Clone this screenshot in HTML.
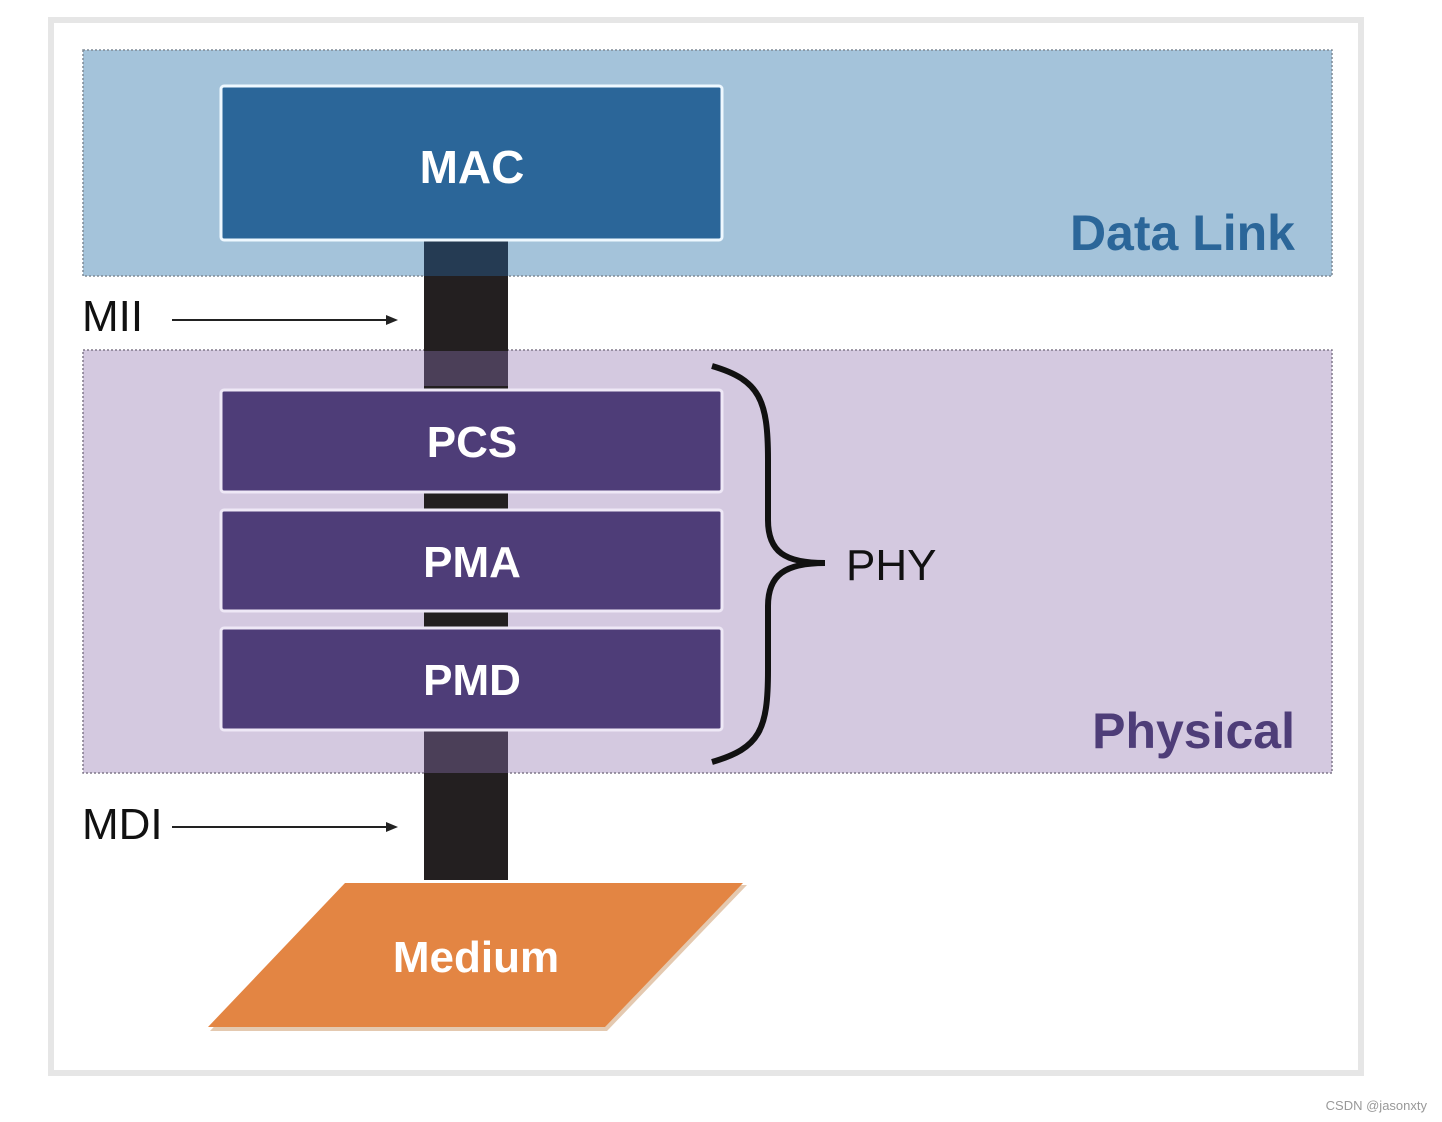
<!DOCTYPE html>
<html><head><meta charset="utf-8"><style>
html,body{margin:0;padding:0;background:#fff;}
svg{display:block;}
</style></head><body>
<svg width="1442" height="1122" viewBox="0 0 1442 1122" xmlns="http://www.w3.org/2000/svg" font-family="Liberation Sans, sans-serif">
<rect x="0" y="0" width="1442" height="1122" fill="#fff"/>
<rect x="51" y="20" width="1310" height="1053" fill="#fff" stroke="#e6e6e6" stroke-width="6"/>
<!-- regions -->
<rect x="83" y="50" width="1249" height="226" fill="#a4c3da" stroke="#7f8a95" stroke-width="1.5" stroke-dasharray="2,2"/>
<rect x="83" y="350" width="1249" height="423" fill="#d4c9e0" stroke="#80788a" stroke-width="1.5" stroke-dasharray="2,2"/>
<!-- bar -->
<rect x="424" y="240" width="84" height="640" fill="#231f20"/>
<rect x="424" y="240" width="84" height="36" fill="#253b53"/>
<rect x="424" y="351" width="84" height="35" fill="#4b3f58"/>
<rect x="424" y="730" width="84" height="43" fill="#4b3f58"/>
<!-- boxes -->
<rect x="221" y="86" width="501" height="154" rx="3" fill="#2b6699" stroke="#eef8ff" stroke-width="3"/>
<text x="472" y="183" text-anchor="middle" font-size="46" font-weight="bold" fill="#fff">MAC</text>
<rect x="221" y="390" width="501" height="102" rx="3" fill="#4e3d78" stroke="#eee8f6" stroke-width="3"/>
<text x="472" y="457" text-anchor="middle" font-size="44" font-weight="bold" fill="#fff">PCS</text>
<rect x="221" y="510" width="501" height="101" rx="3" fill="#4e3d78" stroke="#eee8f6" stroke-width="3"/>
<text x="472" y="577" text-anchor="middle" font-size="44" font-weight="bold" fill="#fff">PMA</text>
<rect x="221" y="628" width="501" height="102" rx="3" fill="#4e3d78" stroke="#eee8f6" stroke-width="3"/>
<text x="472" y="695" text-anchor="middle" font-size="44" font-weight="bold" fill="#fff">PMD</text>
<!-- medium -->
<polygon points="208,1029 345,883 745,883 605,1029" fill="#e4c9b0" transform="translate(2,2)"/>
<polygon points="208,1027 345,883 743,883 605,1027" fill="#e38543"/>
<text x="476" y="972" text-anchor="middle" font-size="44" font-weight="bold" fill="#fff">Medium</text>
<!-- brace -->
<path d="M712,366 C760,380 768,400 768,460 L768,520 C768,552 785,563 825,563 C785,563 768,575 768,606 L768,670 C768,730 760,748 712,762" fill="none" stroke="#111" stroke-width="6"/>
<!-- labels -->
<text x="82" y="331" font-size="44" fill="#111">MII</text>
<line x1="172" y1="320" x2="390" y2="320" stroke="#222" stroke-width="2"/>
<polygon points="398,320 386,315 386,325" fill="#222"/>
<text x="82" y="839" font-size="44" fill="#111">MDI</text>
<line x1="172" y1="827" x2="390" y2="827" stroke="#222" stroke-width="2"/>
<polygon points="398,827 386,822 386,832" fill="#222"/>
<text x="846" y="580" font-size="44" fill="#111">PHY</text>
<text x="1295" y="250" text-anchor="end" font-size="50" font-weight="bold" fill="#2b6699">Data Link</text>
<text x="1295" y="748" text-anchor="end" font-size="50" font-weight="bold" fill="#4e3d78">Physical</text>
<text x="1427" y="1110" text-anchor="end" font-size="13" fill="#999">CSDN @jasonxty</text>
</svg>
</body></html>
